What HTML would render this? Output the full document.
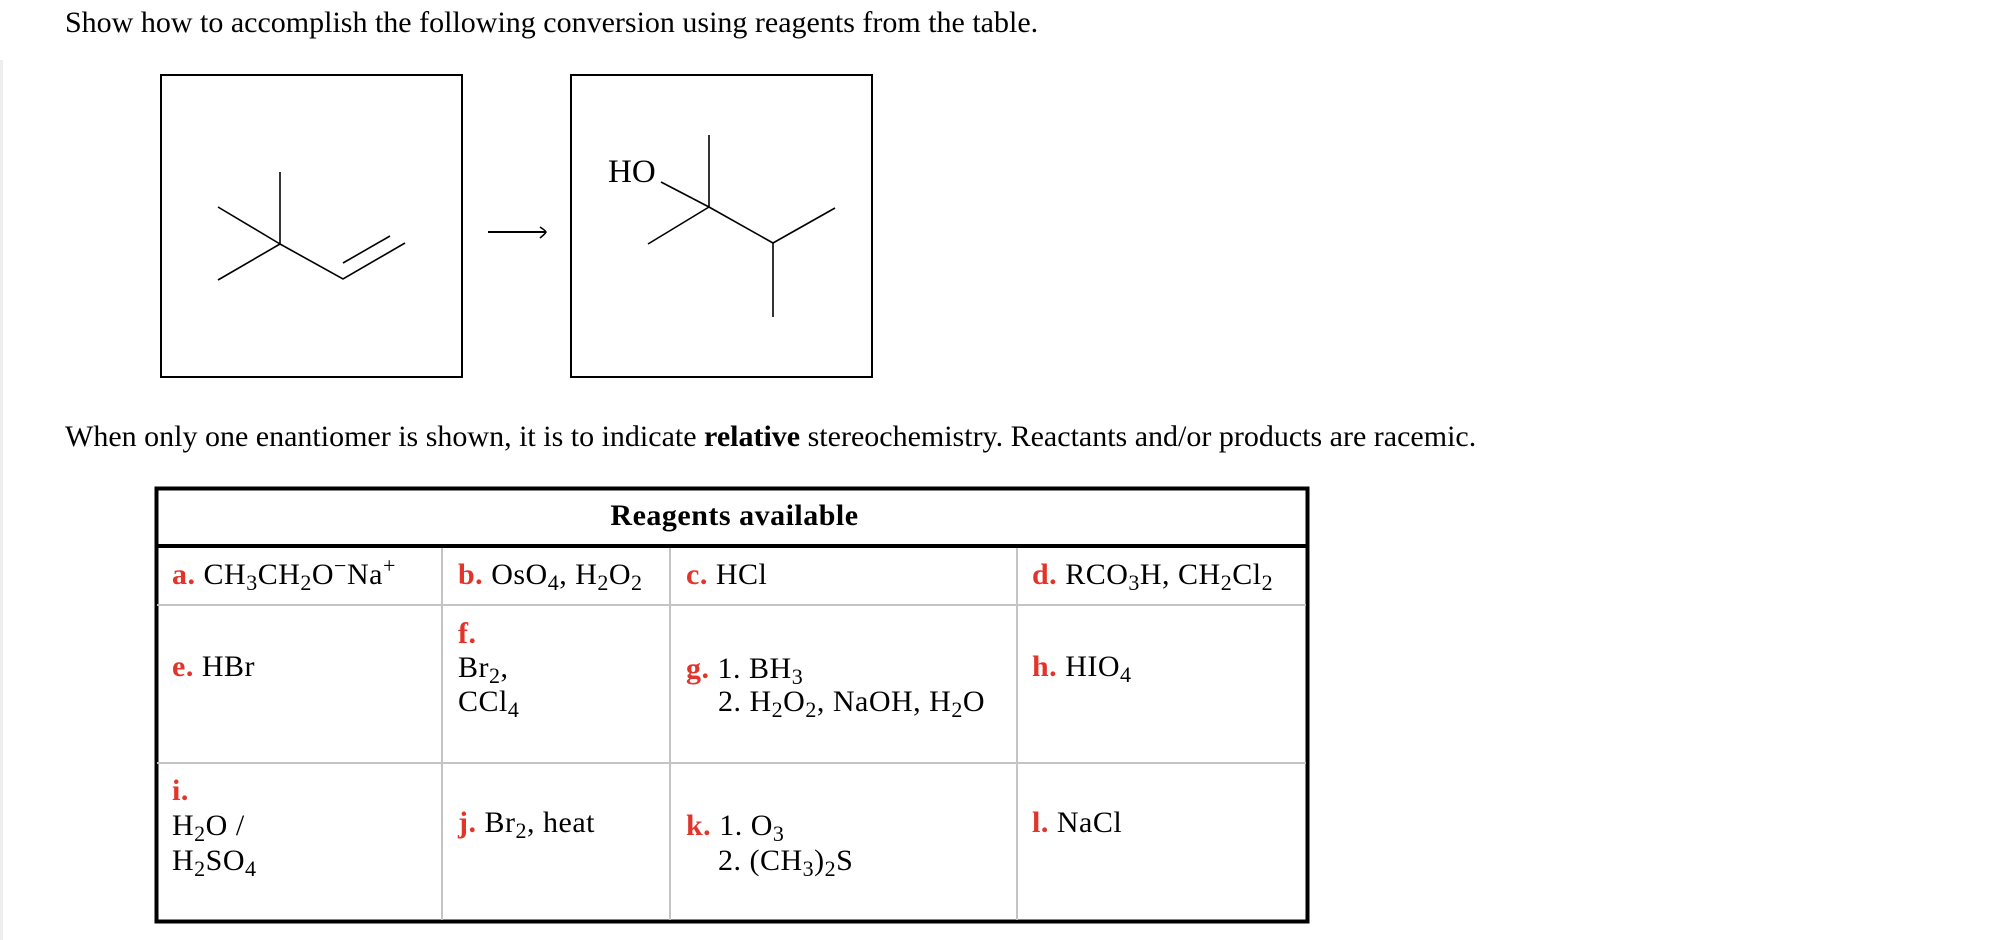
<!DOCTYPE html>
<html><head><meta charset="utf-8"><style>
body{margin:0;width:2008px;height:940px;background:#fff;position:relative;overflow:hidden;font-family:"Liberation Serif",serif;color:#000}
.t{position:absolute;white-space:nowrap;line-height:1}
.big{font-size:30px}
.c{font-size:30px;letter-spacing:0.5px}
.r{color:#e3342b;font-weight:bold}
sub{font-size:22px;vertical-align:-6px;line-height:0}
sup{font-size:22px;vertical-align:11px;line-height:0}
</style></head><body>
<div style="position:absolute;left:0;top:60px;width:3px;height:880px;background:#eee"></div>
<div class="t big" style="left:65px;top:8px">Show how to accomplish the following conversion using reagents from the table.</div>
<div class="t big" style="left:65px;top:422px">When only one enantiomer is shown, it is to indicate <b>relative</b> stereochemistry. Reactants and/or products are racemic.</div>
<div class="t" style="left:608px;top:156px;font-size:33px">HO</div>
<svg style="position:absolute;left:0;top:0" width="2008" height="940">
<g fill="none" stroke="#000">
<rect x="161" y="75" width="301" height="302" stroke-width="2"/>
<rect x="571" y="75" width="301" height="302" stroke-width="2"/>
<g stroke-width="1.6">
<line x1="280" y1="172" x2="280" y2="244"/>
<line x1="218" y1="207" x2="280" y2="244"/>
<line x1="218" y1="280" x2="280" y2="244"/>
<polyline points="280,244 343,279 405,243"/>
<line x1="343" y1="263" x2="390" y2="236"/>
<line x1="709" y1="135" x2="709" y2="207"/>
<line x1="661" y1="182" x2="709" y2="207"/>
<line x1="648" y1="244" x2="709" y2="207"/>
<line x1="709" y1="207" x2="773" y2="243"/>
<line x1="773" y1="243" x2="835" y2="208"/>
<line x1="773" y1="243" x2="773" y2="317"/>
<line x1="488" y1="232" x2="546" y2="232" stroke-width="2"/>
<path d="M540,227 Q546,231 546,232 Q546,233 540,238"/>
</g>
<rect x="156.5" y="488.5" width="1151" height="433" stroke-width="4"/>
<line x1="155" y1="546" x2="1309" y2="546" stroke-width="4"/>
<g stroke="#c4c4c4" stroke-width="2">
<line x1="157" y1="605" x2="1306" y2="605"/>
<line x1="157" y1="763" x2="1306" y2="763"/>
<line x1="442" y1="548" x2="442" y2="920"/>
<line x1="670" y1="548" x2="670" y2="920"/>
<line x1="1017" y1="548" x2="1017" y2="920"/>
</g>
</g>
</svg>
<div class="t c" style="left:158px;width:1153px;text-align:center;top:501px"><b>Reagents available</b></div>
<div class="t c" style="left:172px;top:560px"><span class="r">a.</span> CH<sub>3</sub>CH<sub>2</sub>O<sup>−</sup>Na<sup>+</sup></div>
<div class="t c" style="left:458px;top:560px"><span class="r">b.</span> OsO<sub>4</sub>, H<sub>2</sub>O<sub>2</sub></div>
<div class="t c" style="left:686px;top:560px"><span class="r">c.</span> HCl</div>
<div class="t c" style="left:1032px;top:560px"><span class="r">d.</span> RCO<sub>3</sub>H, CH<sub>2</sub>Cl<sub>2</sub></div>
<div class="t c" style="left:172px;top:652px"><span class="r">e.</span> HBr</div>
<div class="t c" style="left:458px;top:617px;line-height:34px"><span class="r">f.</span><br>Br<sub>2</sub>,<br>CCl<sub>4</sub></div>
<div class="t c" style="left:686px;top:652px;line-height:33px"><span class="r">g.</span> 1. BH<sub>3</sub><br>&nbsp;&nbsp;&nbsp;&nbsp;2. H<sub>2</sub>O<sub>2</sub>, NaOH, H<sub>2</sub>O</div>
<div class="t c" style="left:1032px;top:652px"><span class="r">h.</span> HIO<sub>4</sub></div>
<div class="t c" style="left:172px;top:773px;line-height:35px"><span class="r">i.</span><br>H<sub>2</sub>O /<br>H<sub>2</sub>SO<sub>4</sub></div>
<div class="t c" style="left:458px;top:808px"><span class="r">j.</span> Br<sub>2</sub>, heat</div>
<div class="t c" style="left:686px;top:808px;line-height:35px"><span class="r">k.</span> 1. O<sub>3</sub><br>&nbsp;&nbsp;&nbsp;&nbsp;2. (CH<sub>3</sub>)<sub>2</sub>S</div>
<div class="t c" style="left:1032px;top:808px"><span class="r">l.</span> NaCl</div>
</body></html>
